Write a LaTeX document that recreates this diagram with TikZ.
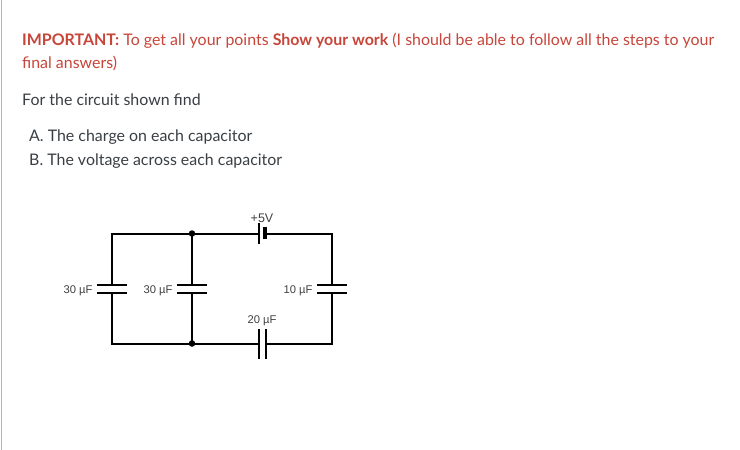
\documentclass[tikz,border=0pt]{standalone}
\usepackage{fontspec}
\setmainfont{Lato}
\newfontfamily\labelfont{Liberation Sans}
\definecolor{redtxt}{HTML}{C8453A}
\definecolor{darktxt}{HTML}{3A3F44}
\definecolor{edge}{HTML}{B5B5B5}
\begin{document}
\begin{tikzpicture}[x=1pt,y=-1pt,
  body/.style={anchor=base west,inner sep=0pt,font=\fontsize{15.93}{18}\selectfont,text=darktxt},
  redbody/.style={body,text=redtxt},
  val/.style={inner sep=0pt,font=\labelfont\fontsize{11.2}{13}\selectfont,text=black!75},
  wire/.style={line width=2pt,line cap=rect},
  plate/.style={line width=2pt},
  thick plate/.style={line width=3.2pt},
  junction/.style={circle,fill=black,inner sep=0pt,minimum size=6.5pt}]
\useasboundingbox (0,0) rectangle (740,450);
\fill[white] (0,0) rectangle (740,450);
\draw[edge,line width=1pt] (1,0) -- (1,450);
\node[redbody] (t1) at (22,45) {\textbf{IMPORTANT:} To get all your points \textbf{Show your work} (I should be able to follow all the steps to your};
\node[redbody] (t2) at (22,68) {final answers)};
\node[body] (t3) at (22,105) {For the circuit shown find};
\node[body] (t4) at (29,141) {A. The charge on each capacitor};
\node[body] (t5) at (29,165) {B. The voltage across each capacitor};
% corners and junctions
\coordinate (tl) at (112,233.5);
\coordinate (tr) at (332,233.5);
\coordinate (bl) at (112,343.5);
\coordinate (br) at (332,343.5);
\node[junction] (jt) at (192,233.5) {};
\node[junction] (jb) at (192,343.5) {};
% capacitor plate centres
\coordinate (c1a) at (112,285); \coordinate (c1b) at (112,293);
\coordinate (c2a) at (192,285); \coordinate (c2b) at (192,293);
\coordinate (c3a) at (332,285); \coordinate (c3b) at (332,293);
\coordinate (c4a) at (258.5,343.5); \coordinate (c4b) at (266,343.5);
\coordinate (ba) at (259,233.5); \coordinate (bb) at (265,233.5);
% wires
\draw[wire] (c1a) -- (tl) -- (jt) -- (ba);
\draw[wire] (bb) -- (tr) -- (c3a);
\draw[wire] (c3b) -- (br) -- (c4b);
\draw[wire] (c4a) -- (jb) -- (bl) -- (c1b);
\draw[wire] (jt) -- (c2a);
\draw[wire] (c2b) -- (jb);
% plates
\foreach \n in {c1a,c1b,c2a,c2b,c3a,c3b}
  \draw[plate] ([xshift=-15pt]\n) -- ([xshift=15pt]\n);
\foreach \n in {c4a,c4b}
  \draw[plate] ([yshift=-15pt]\n) -- ([yshift=15pt]\n);
\draw[plate] ([yshift=-10.5pt]ba) -- ([yshift=10.5pt]ba);
\draw[thick plate] ([yshift=-5.5pt]bb) -- ([yshift=6.5pt]bb);
% labels
\node[val] (l1) at (78,291) {30 µF};
\node[val] (l2) at (158,291) {30 µF};
\node[val] (l3) at (298,291) {10 µF};
\node[val] (l4) at (262,321) {20 µF};
\node[val,font=\labelfont\fontsize{12.5}{13}\selectfont] (l5) at (262,218) {+5V};
\end{tikzpicture}
\end{document}
